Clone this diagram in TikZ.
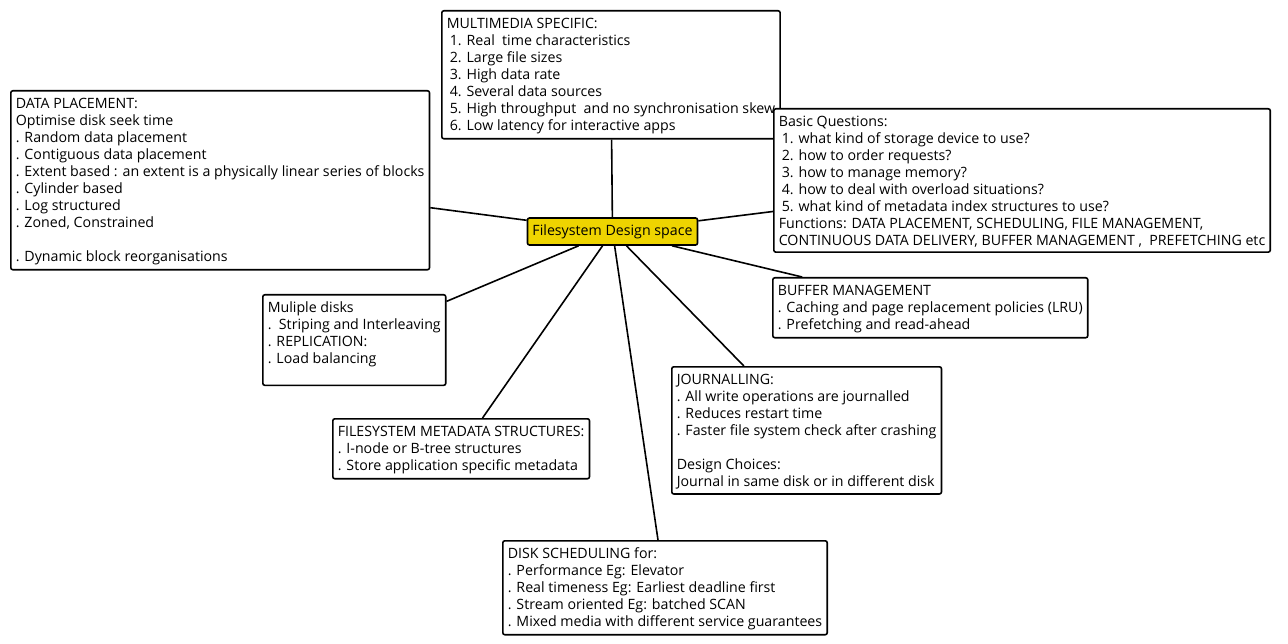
\documentclass[tikz,border=0pt]{standalone}
\usepackage{fontspec}
\setmainfont{Open Sans}
\definecolor{hubyellow}{RGB}{238,212,0}
\newcommand\ind{\hspace{3pt}}
\newcommand\fst{\rule{0pt}{13.5pt}}
\begin{document}
\begin{tikzpicture}[x=1pt,y=-1pt,
   box/.style={draw,line width=1.6pt,rounded corners=2pt,fill=white,
     align=left,anchor=north west,inner xsep=5pt,inner ysep=4.5pt,
     font=\fontsize{14.2}{17}\selectfont},
   hub/.style={draw,line width=1.6pt,rounded corners=2pt,fill=hubyellow,
     inner xsep=5pt,minimum height=27pt,font=\fontsize{14.2}{17}\selectfont},
   link/.style={line width=1.6pt}]
   \useasboundingbox (0,0) rectangle (1288,644);
   \node[hub] (ctr) at (612.5,231.5) {Filesystem Design space};
   \node[box] (mm) at (441,10) {\fst MULTIMEDIA SPECIFIC:\\
     \ind1. Real\ \ time characteristics\\
     \ind2. Large file sizes\\
     \ind3. High data rate\\
     \ind4. Several data sources\\
     \ind5. High throughput\ \ and no synchronisation skew\\
     \ind6. Low latency for interactive apps};
   \node[box] (bq) at (773,108) {\fst Basic Questions:\\
     \ind1. what kind of storage device to use?\\
     \ind2. how to order requests?\\
     \ind3. how to manage memory?\\
     \ind4. how to deal with overload situations?\\
     \ind5. what kind of metadata index structures to use?\\
     Functions: DATA PLACEMENT, SCHEDULING, FILE MANAGEMENT,\\
     CONTINUOUS DATA DELIVERY, BUFFER MANAGEMENT ,\ \ PREFETCHING etc};
   \node[box] (dp) at (10,90) {\fst DATA PLACEMENT:\\
     Optimise disk seek time\\
     . Random data placement\\
     . Contiguous data placement\\
     . Extent based : an extent is a physically linear series of blocks\\
     . Cylinder based\\
     . Log structured\\
     . Zoned, Constrained\\
     \mbox{}\\
     . Dynamic block reorganisations};
   \node[box] (md) at (262,294) {\fst Muliple disks\\
     .\ \ Striping and Interleaving\\
     . REPLICATION:\\
     . Load balancing\\
     \mbox{}};
   \node[box] (fm) at (332,418) {\fst FILESYSTEM METADATA STRUCTURES:\\
     . I-node or B-tree structures\\
     . Store application specific metadata};
   \node[box] (bm) at (772,277) {\fst BUFFER MANAGEMENT\\
     . Caching and page replacement policies (LRU)\\
     . Prefetching and read-ahead};
   \node[box] (jn) at (671,366) {\fst JOURNALLING:\\
     . All write operations are journalled\\
     . Reduces restart time\\
     . Faster file system check after crashing\\
     \mbox{}\\
     Design Choices:\\
     Journal in same disk or in different disk};
   \node[box] (ds) at (502,540) {\fst DISK SCHEDULING for:\\
     . Performance Eg: Elevator\\
     . Real timeness Eg: Earliest deadline first\\
     . Stream oriented Eg: batched SCAN\\
     . Mixed media with different service guarantees};
   \foreach \t in {mm,bq,dp,md,fm,bm,jn,ds}
     \draw[link] (ctr) -- (\t);
\end{tikzpicture}
\end{document}
